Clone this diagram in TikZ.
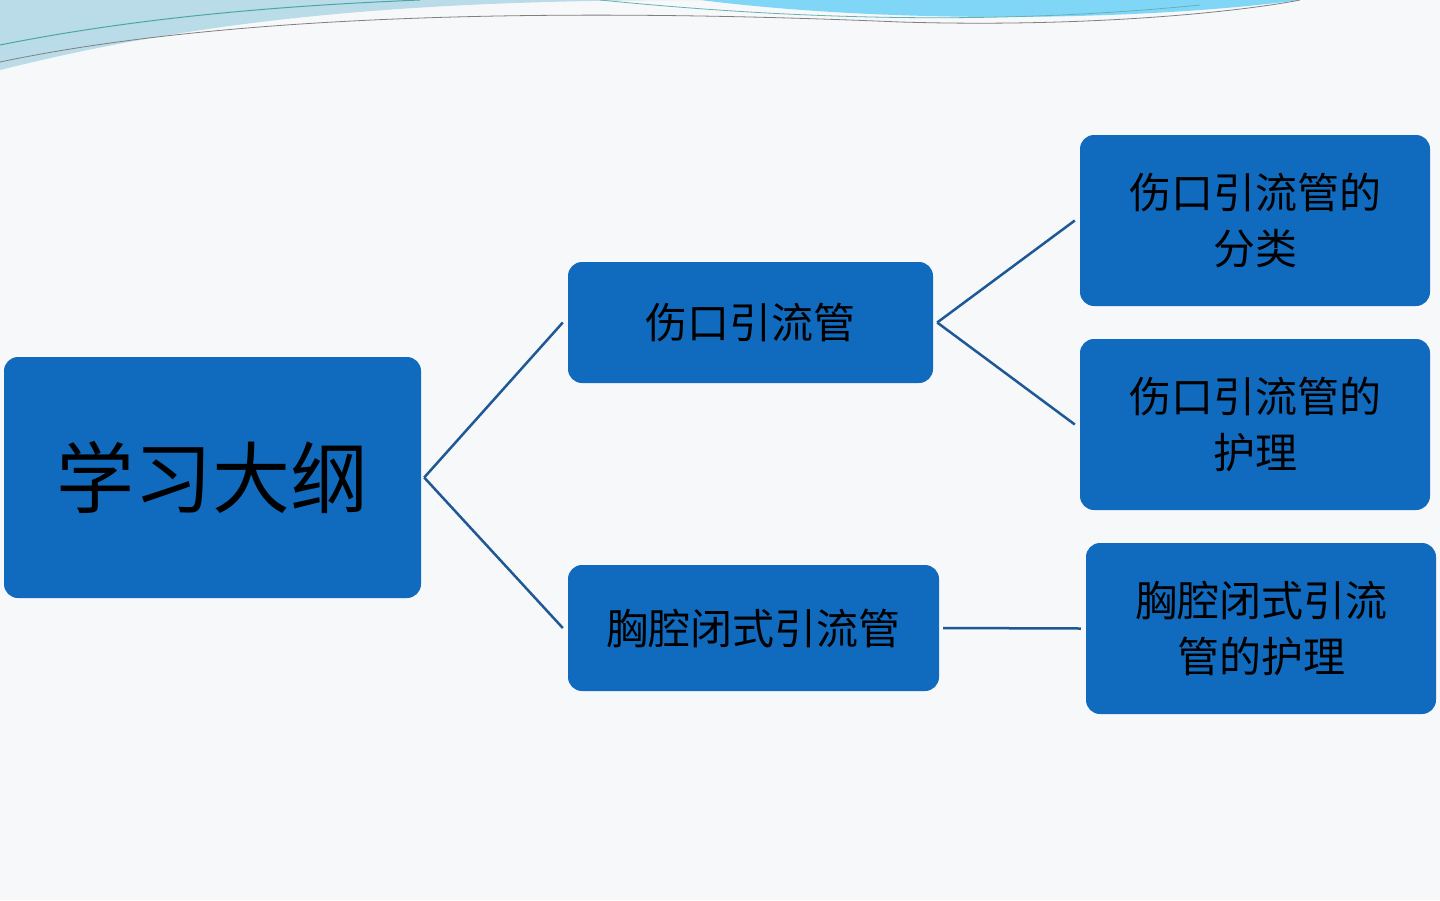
\documentclass[tikz,border=0pt]{standalone}
\usepackage{fontspec}
\newfontfamily\cjk{Noto Sans CJK SC}
\definecolor{boxblue}{RGB}{16,106,190}
\definecolor{linkblue}{RGB}{30,88,150}
\definecolor{bg}{RGB}{247,248,249}
\begin{document}
\begin{tikzpicture}[x=1pt,y=-1pt,
  box/.style={fill=boxblue,rounded corners=14pt,inner sep=0pt,align=center,text=black,font=\cjk\fontsize{42}{56}\selectfont},
  link/.style={draw=linkblue,line width=2.5pt}]
\fill[bg] (0,0) rectangle (1440,900);
\useasboundingbox (0,0) rectangle (1440,900);
% top decoration
\fill[cyan!40!teal!30] (0,70) .. controls (200,20) and (400,0) .. (700,0) -- (0,0) -- cycle;
\fill[cyan!50!white] (700,0) .. controls (900,25) and (1150,20) .. (1300,0) -- cycle;
\draw[teal!70,line width=1pt] (0,45) .. controls (150,15) and (300,5) .. (420,0);
\draw[gray,line width=0.8pt] (0,62) .. controls (200,20) and (500,5) .. (900,22) .. controls (1100,28) and (1250,10) .. (1300,0);
\draw[teal!60,line width=0.8pt] (600,0) .. controls (800,20) and (1000,25) .. (1200,5);
\node[box,minimum width=417pt,minimum height=241pt,font=\cjk\fontsize{78}{90}\selectfont] (m) at (212.5,477.5) {学习大纲};
\node[box,minimum width=365pt,minimum height=121pt] (a) at (750.5,322.5) {伤口引流管};
\node[box,minimum width=371pt,minimum height=126pt] (b) at (753.5,628) {胸腔闭式引流管};
\node[box,minimum width=350pt,minimum height=171pt] (c1) at (1255,220.5) {伤口引流管的\\分类};
\node[box,minimum width=350pt,minimum height=171pt] (c2) at (1255,424.5) {伤口引流管的\\护理};
\node[box,minimum width=350pt,minimum height=171pt] (c3) at (1261,628.5) {胸腔闭式引流\\管的护理};
\draw[link] ([xshift=3pt]m.east) -- ([xshift=-5pt]a.west);
\draw[link] ([xshift=3pt]m.east) -- ([xshift=-5pt]b.west);
\draw[link] ([xshift=4pt]a.east) -- ([xshift=-5pt]c1.west);
\draw[link] ([xshift=4pt]a.east) -- ([xshift=-5pt]c2.west);
\draw[link] ([xshift=4pt]b.east) -- ([xshift=-5pt]c3.west);
\end{tikzpicture}
\end{document}
